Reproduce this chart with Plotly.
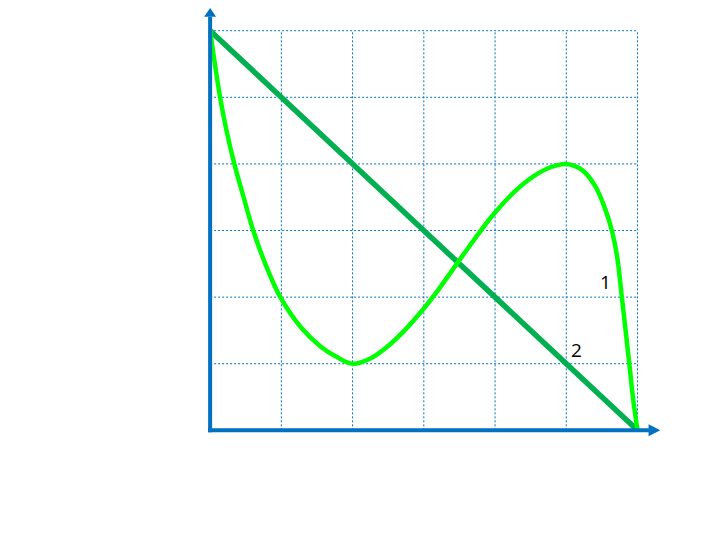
import plotly.graph_objects as go

# curve 1 (data units, grid 0..6)
curve_x = [0, 0.14, 0.23, 0.34, 0.47, 0.605, 0.775, 0.985, 1.28, 1.55, 1.78, 2.0, 2.25, 2.48, 2.72, 3.0,
           3.19, 3.49, 3.80, 4.0, 4.27, 4.55, 4.78, 5.0, 5.22, 5.41, 5.55, 5.64, 5.715, 5.78, 5.885, 5.935, 6.0]
curve_y = [6, 5.0, 4.5, 4.0, 3.5, 3.0, 2.5, 2.0, 1.54, 1.26, 1.10, 1.0, 1.08, 1.25, 1.49, 1.83,
           2.09, 2.54, 3.0, 3.27, 3.58, 3.82, 3.95, 4.0, 3.91, 3.66, 3.31, 3.0, 2.60, 2.0, 1.0, 0.5, 0]

# line 2
line_x = [0, 6]
line_y = [6, 0]

grid_ticks = [1, 2, 3, 4, 5, 6]
label_text = ["1", "2"]
label_x = [5.55, 5.15]
label_y = [2.22, 1.2]

AXIS = "#0070C0"

fig = go.Figure()
fig.add_trace(go.Scatter(x=line_x, y=line_y, mode="lines",
                         line=dict(color="#00B050", width=5.5)))
fig.add_trace(go.Scatter(x=curve_x, y=curve_y, mode="lines",
                         line=dict(color="#00FF00", width=4.5, shape="spline", smoothing=1.0,
                                   simplify=False)))

shapes = []
# dotted grid
for t in grid_ticks:
    shapes.append(dict(type="line", x0=t, x1=t, y0=0, y1=6, layer="below",
                       line=dict(color=AXIS, width=1, dash="2px,2px")))
    shapes.append(dict(type="line", x0=0, x1=6, y0=t, y1=t, layer="below",
                       line=dict(color=AXIS, width=1, dash="2px,2px")))
# axes with arrow heads
shapes.append(dict(type="line", x0=-0.028, x1=6.16, y0=0, y1=0, layer="above",
                   line=dict(color=AXIS, width=4)))
shapes.append(dict(type="line", x0=0, x1=0, y0=-0.03, y1=6.21, layer="above",
                   line=dict(color=AXIS, width=4)))
shapes.append(dict(type="path", path="M 6.155,-0.09 L 6.155,0.09 L 6.32,0 Z",
                   fillcolor=AXIS, line=dict(width=0)))
shapes.append(dict(type="path", path="M -0.084,6.21 L 0.084,6.21 L 0,6.34 Z",
                   fillcolor=AXIS, line=dict(width=0)))

annotations = [dict(x=x, y=y, text=t, showarrow=False, xanchor="center", yanchor="middle",
                    font=dict(family="Open Sans", size=19, color="black"))
               for t, x, y in zip(label_text, label_x, label_y)]

# the page body adds an 8px offset, margins are shifted to make up for it
fig.update_layout(
    width=720, height=540,
    margin=dict(l=195, r=62, t=0, b=111),
    plot_bgcolor="white", paper_bgcolor="white",
    showlegend=False,
    shapes=shapes,
    annotations=annotations,
    xaxis=dict(range=[-0.1, 6.4], showgrid=False, zeroline=False, showticklabels=False, showline=False),
    yaxis=dict(range=[-0.1, 6.341], showgrid=False, zeroline=False, showticklabels=False, showline=False),
)

fig.write_html("out.html")
